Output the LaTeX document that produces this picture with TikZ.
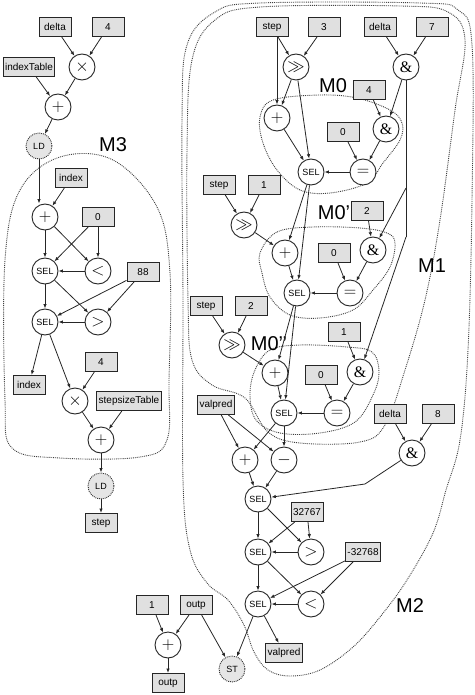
\documentclass[tikz,border=0pt]{standalone}
\usepackage{fontspec}
\setmainfont{Liberation Sans}
\usetikzlibrary{arrows.meta}
\newcommand\opbig[1]{{\fontsize{16}{16}\selectfont$#1$}}
\newfontfamily\ampfont{Liberation Serif}
\newcommand\andsym{{\fontsize{16}{16}\selectfont\ampfont\&}}
\begin{document}
\begin{tikzpicture}[x=1pt,y=-1pt,
  box/.style={draw=black!85, fill=black!12, line width=1pt, minimum width=32pt, minimum height=19pt, inner sep=2pt, font=\fontsize{10}{12}\selectfont},
  op/.style={circle, draw=black!85, fill=white, line width=0.9pt, minimum size=26pt, inner sep=0pt, font=\fontsize{9}{10}\selectfont},
  mem/.style={op, densely dotted, fill=black!10},
  arr/.style={-{Latex[length=4.5pt,width=3.5pt]}, line width=0.8pt, black!85},
  ln/.style={line width=0.8pt, black!85},
  region/.style={densely dotted, line width=0.9pt, black!75},
  lbl/.style={font=\fontsize{20}{22}\selectfont, inner sep=0pt}]
\useasboundingbox (0,0) rectangle (474,695);

% regions
\draw[region] plot[smooth cycle, tension=0.6] coordinates {(5,260) (20,190) (60,157) (113,160) (157,207) (170,273) (169,380) (167,440) (140,457) (60,458) (12,448) (5,400)};
\draw[region] plot[smooth cycle, tension=0.6] coordinates {(183,300) (182,120) (187,45) (215,12) (260,3) (420,3) (458,10) (472,45) (472,200) (468,350) (460,440) (446,490) (433,533) (407,580) (380,617) (353,647) (320,670) (290,676) (268,670) (254,652) (244,625) (228,600) (207,583) (190,550) (183,480)};
\draw[region] plot[smooth cycle, tension=0.6] coordinates {(188,300) (187,150) (192,60) (215,20) (260,7) (400,6) (448,12) (465,40) (455,110) (440,220) (425,300) (405,370) (385,425) (360,442) (300,443) (268,432) (245,398) (212,385) (192,360)};
\draw[region] plot[smooth cycle, tension=0.6] coordinates {(260,117) (273,100) (320,95) (357,98) (390,110) (402,123) (400,140) (383,163) (367,183) (330,193) (300,190) (277,170) (263,143)};
\draw[region] plot[smooth cycle, tension=0.6] coordinates {(260,253) (277,232) (313,227) (360,228) (387,233) (395,243) (390,267) (373,290) (353,310) (320,318) (290,315) (270,297) (262,273)};
\draw[region] plot[smooth cycle, tension=0.6] coordinates {(255,370) (270,350) (300,345) (347,347) (372,352) (379,372) (373,395) (355,422) (320,433) (280,433) (256,420) (250,395)};

% labels
\node[lbl] (lM3) at (113,145) {M3};
\node[lbl] (lM0) at (333,86) {M0};
\node[lbl] (lM0a) at (334,213) {M0’};
\node[lbl] (lM0b) at (269,344) {M0’’};
\node[lbl] (lM1) at (432,266) {M1};
\node[lbl] (lM2) at (410,606) {M2};

% left
\node[box] (dL) at (55,27) {delta};
\node[box] (fourL) at (108,27) {4};
\node[op] (mulL) at (82,67) {\opbig{\times}};
\node[box] (idxT) at (29,67) {indexTable};
\node[op] (addL1) at (58,107) {\opbig{+}};
\node[mem] (ld1) at (39,146) {LD};
\node[box] (idx1) at (71,178) {index};
\node[op] (addL2) at (45,217) {\opbig{+}};
\node[box] (zeroL) at (98,217) {0};
\node[op] (selL1) at (45,271) {SEL};
\node[op] (ltL) at (98,271) {\opbig{<}};
\node[box] (e88) at (143,272) {88};
\node[op] (selL2) at (45,322) {SEL};
\node[op] (gtL) at (98,322) {\opbig{>}};
\node[box] (idx2) at (29,385) {index};
\node[box] (fourL2) at (101,362) {4};
\node[op] (mulL2) at (75,401) {\opbig{\times}};
\node[box] (sst) at (129,401) {stepsizeTable};
\node[op] (addL3) at (101,440) {\opbig{+}};
\node[mem] (ld2) at (101,486) {LD};
\node[box] (stepOut) at (101,523) {step};

% right
\node[box] (stepA) at (272,27) {step};
\node[box] (threeA) at (324,27) {3};
\node[box] (deltaA) at (380,27) {delta};
\node[box] (sevenA) at (432,27) {7};
\node[op] (shrA) at (296,67) {\opbig{\gg}};
\node[op] (andT) at (406,67) {\andsym};
\node[box] (fourA) at (369,90) {4};
\node[op] (addA) at (277,118) {\opbig{+}};
\node[op] (andA) at (386,129) {\andsym};
\node[box] (zeroA) at (343,132) {0};
\node[op] (selA) at (311,172) {SEL};
\node[op] (eqA) at (363,172) {\opbig{=}};

\node[box] (stepB) at (219,185) {step};
\node[box] (oneB) at (264,185) {1};
\node[op] (shrB) at (244,225) {\opbig{\gg}};
\node[box] (twoB) at (367,211) {2};
\node[op] (addB) at (285,253) {\opbig{+}};
\node[box] (zeroB) at (334,253) {0};
\node[op] (andB) at (373,250) {\andsym};
\node[op] (selB) at (297,293) {SEL};
\node[op] (eqB) at (350,293) {\opbig{=}};

\node[box] (stepC) at (206,306) {step};
\node[box] (twoC) at (251,306) {2};
\node[op] (shrC) at (232,345) {\opbig{\gg}};
\node[box] (oneC) at (344,332) {1};
\node[op] (andC) at (360,372) {\andsym};
\node[op] (addC) at (275,373) {\opbig{+}};
\node[box] (zeroC) at (321,375) {0};
\node[op] (selC) at (284,413) {SEL};
\node[op] (eqC) at (337,413) {\opbig{=}};

\node[box] (vp1) at (216,405) {valpred};
\node[box] (deltaD) at (390,414) {delta};
\node[box] (eightD) at (438,414) {8};
\node[op] (addD) at (245,460) {\opbig{+}};
\node[op] (subD) at (284,460) {\opbig{-}};
\node[op] (andD) at (412,453) {\andsym};
\node[op] (selD) at (258,499) {SEL};
\node[box] (c32767) at (307,512) {32767};
\node[op] (selE) at (258,552) {SEL};
\node[op] (gtE) at (311,552) {\opbig{>}};
\node[box] (cm32768) at (363,552) {-32768};
\node[op] (selF) at (258,604) {SEL};
\node[op] (ltF) at (311,604) {\opbig{<}};
\node[box] (oneG) at (152,605) {1};
\node[box] (outp1) at (196,605) {outp};
\node[op] (addG) at (168,645) {\opbig{+}};
\node[mem] (st) at (232,669) {ST};
\node[box] (vp2) at (284,653) {valpred};
\node[box] (outp2) at (168,683) {outp};

\coordinate (j1) at (406,188);
\coordinate (j2) at (406,237);
\coordinate (bend) at (365,484);

% left edges
\draw[arr] (dL) -- (mulL);
\draw[arr] (fourL) -- (mulL);
\draw[arr] (idxT) -- (addL1);
\draw[arr] (mulL) -- (addL1);
\draw[arr] (addL1) -- (ld1);
\draw[arr] (ld1) -- (ld1 |- addL2.north);
\draw[arr] (idx1) -- (addL2);
\draw[arr] (addL2) -- (selL1);
\draw[arr] (addL2) -- (ltL);
\draw[arr] (zeroL) -- (selL1);
\draw[arr] (zeroL) -- (ltL);
\draw[arr] (ltL) -- (selL1);
\draw[arr] (selL1) -- (selL2);
\draw[arr] (selL1) -- (gtL);
\draw[arr] (e88) -- (selL2);
\draw[arr] (e88) -- (gtL);
\draw[arr] (gtL) -- (selL2);
\draw[arr] (selL2) -- (idx2);
\draw[arr] (selL2) -- (mulL2);
\draw[arr] (fourL2) -- (mulL2);
\draw[arr] (mulL2) -- (addL3);
\draw[arr] (sst) -- (addL3);
\draw[arr] (addL3) -- (ld2);
\draw[arr] (ld2) -- (stepOut);

% right edges
\draw[arr] (stepA) -- (shrA);
\draw[arr] (threeA) -- (shrA);
\draw[arr] (stepA.south -| addA) -- (addA);
\draw[arr] (shrA) -- (addA);
\draw[arr] (shrA) -- (selA);
\draw[arr] (deltaA) -- (andT);
\draw[arr] (sevenA) -- (andT);
\draw[arr] (andT) -- (andA);
\draw[arr] (fourA) -- (andA);
\draw[arr] (andA) -- (eqA);
\draw[arr] (zeroA) -- (eqA);
\draw[arr] (eqA) -- (selA);
\draw[arr] (addA) -- (selA);

\draw[ln] (andT.south -| j1) -- (j2);
\draw[arr] (j1) -- (andB);
\draw[arr] (j2) -- (andC);

\draw[arr] (selA) -- (addB);
\draw[arr] (selA) -- (selB);
\draw[arr] (stepB) -- (shrB);
\draw[arr] (oneB) -- (shrB);
\draw[arr] (shrB) -- (addB);
\draw[arr] (addB) -- (selB);
\draw[arr] (twoB) -- (andB);
\draw[arr] (andB) -- (eqB);
\draw[arr] (zeroB) -- (eqB);
\draw[arr] (eqB) -- (selB);

\draw[arr] (selB) -- (addC);
\draw[arr] (selB) -- (selC);
\draw[arr] (stepC) -- (shrC);
\draw[arr] (twoC) -- (shrC);
\draw[arr] (shrC) -- (addC);
\draw[arr] (addC) -- (selC);
\draw[arr] (oneC) -- (andC);
\draw[arr] (andC) -- (eqC);
\draw[arr] (zeroC) -- (eqC);
\draw[arr] (eqC) -- (selC);

\draw[arr] (selC) -- (addD);
\draw[arr] (selC) -- (subD);
\draw[arr] (vp1) -- (addD);
\draw[arr] (vp1) -- (subD);
\draw[arr] (addD) -- (selD);
\draw[arr] (subD) -- (selD);
\draw[arr] (deltaD) -- (andD);
\draw[arr] (eightD) -- (andD);
\draw[arr] (andD) -- (bend) -- (selD);

\draw[arr] (selD) -- (selE);
\draw[arr] (selD) -- (gtE);
\draw[arr] (c32767) -- (selE);
\draw[arr] (c32767) -- (gtE);
\draw[arr] (gtE) -- (selE);
\draw[arr] (selE) -- (selF);
\draw[arr] (selE) -- (ltF);
\draw[arr] (cm32768) -- (selF);
\draw[arr] (cm32768) -- (ltF);
\draw[arr] (ltF) -- (selF);
\draw[arr] (selF) -- (st);
\draw[arr] (selF) -- (vp2);
\draw[arr] (oneG) -- (addG);
\draw[arr] (outp1) -- (addG);
\draw[arr] (outp1) -- (st);
\draw[arr] (addG) -- (outp2);
\end{tikzpicture}
\end{document}
